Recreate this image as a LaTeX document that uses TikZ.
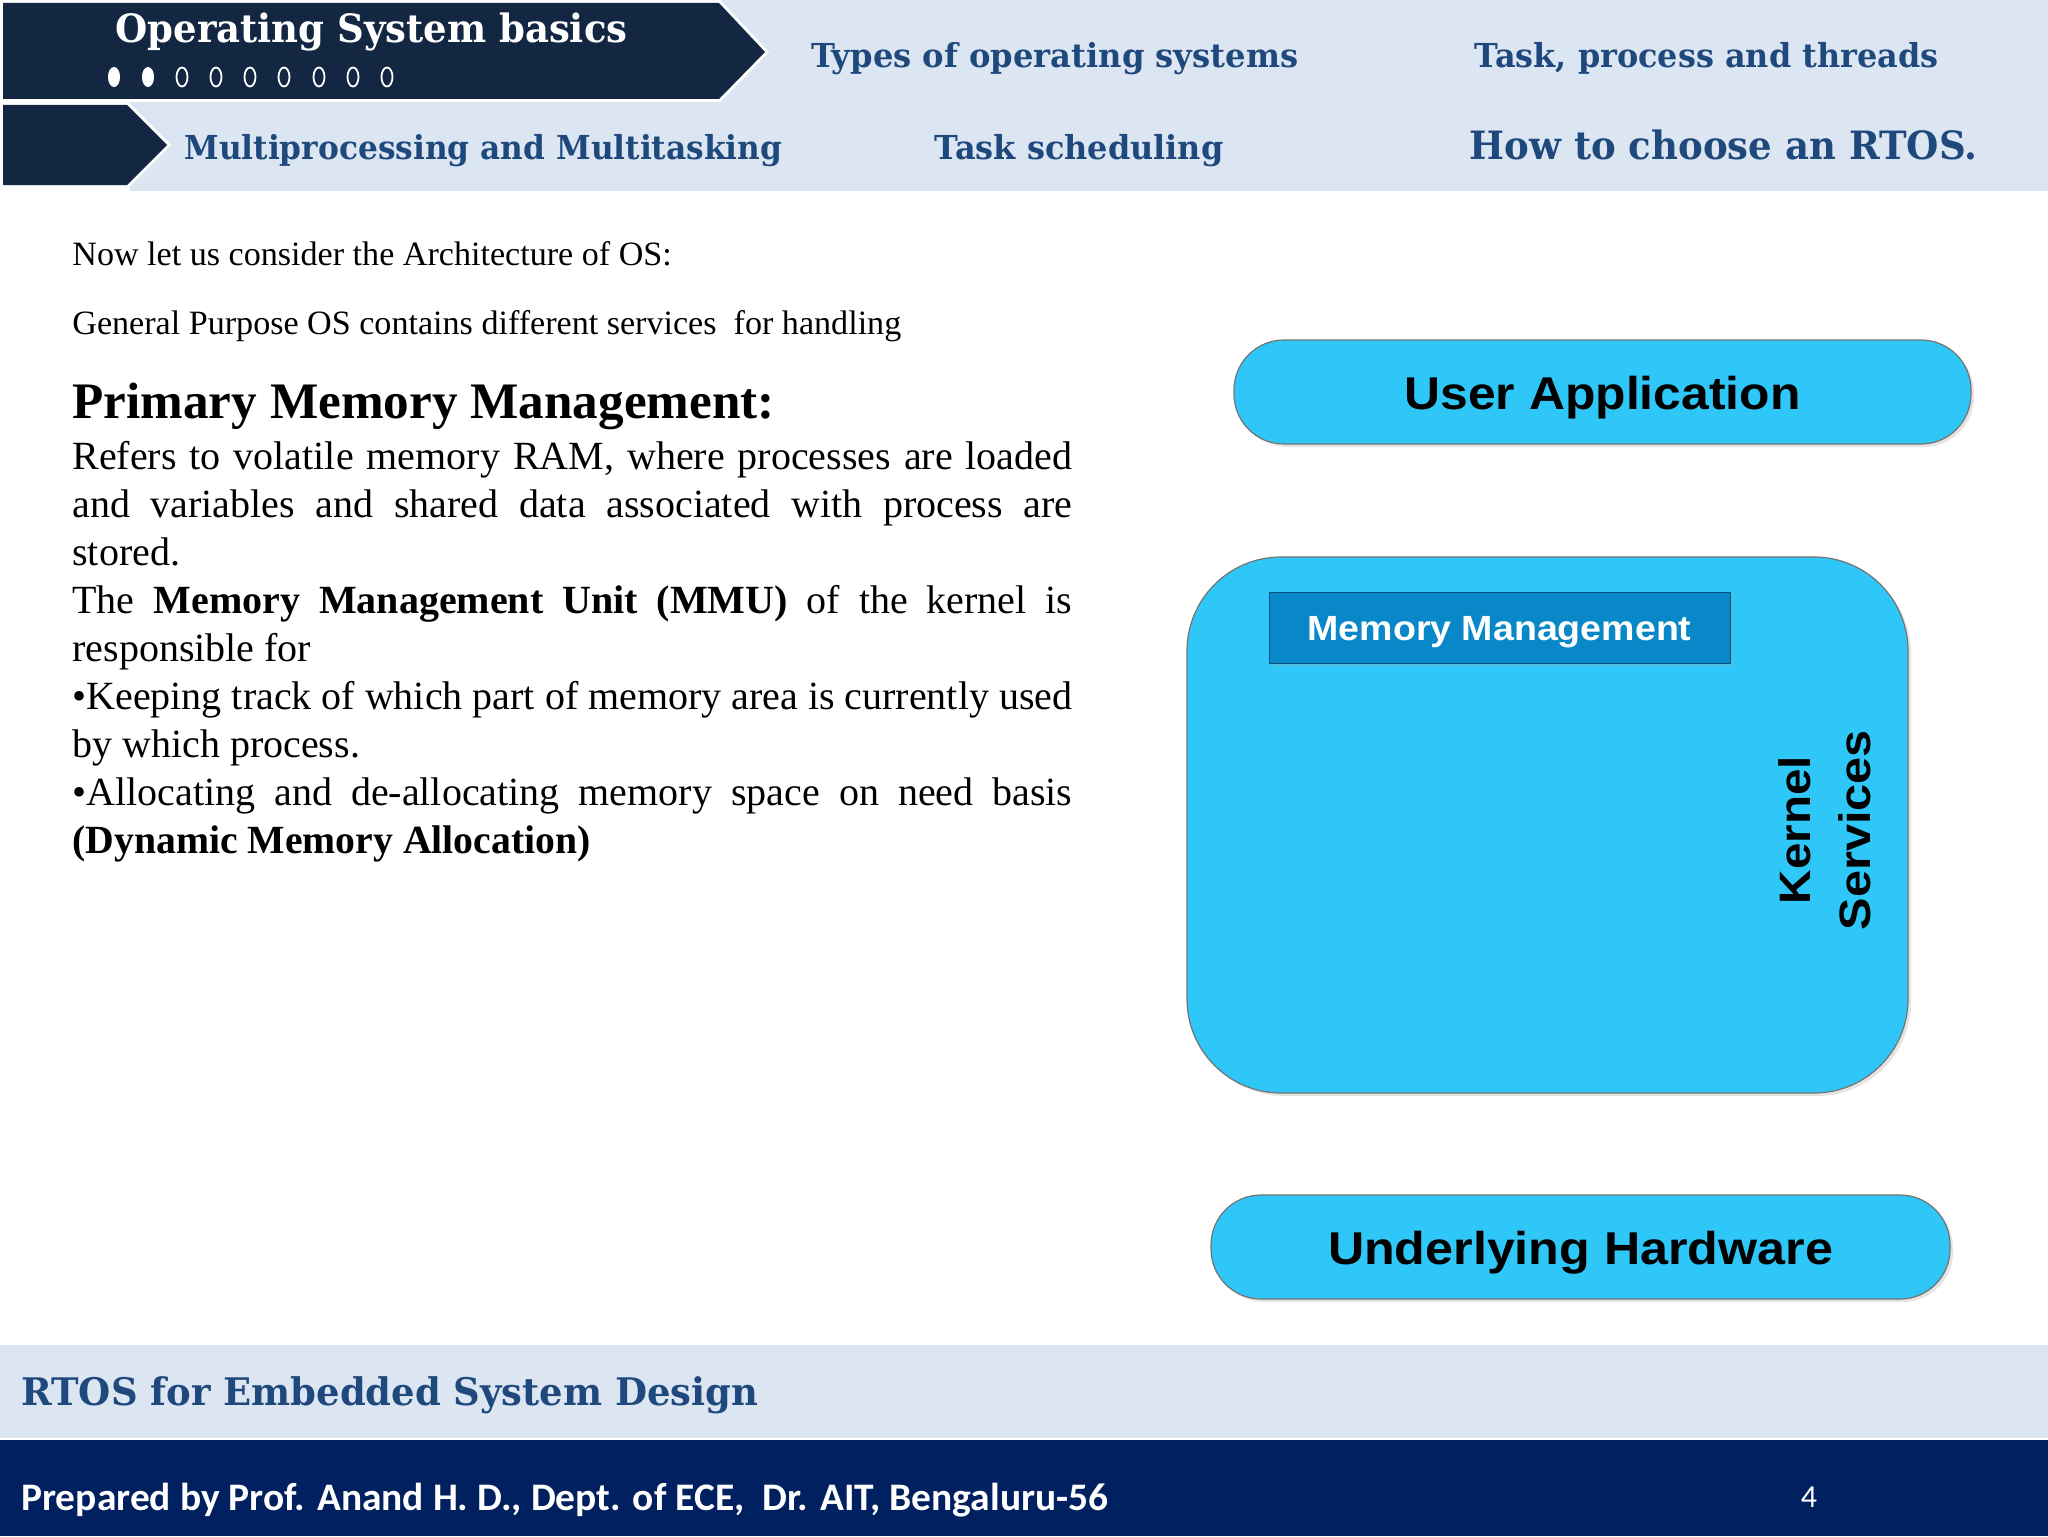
\documentclass[tikz,border=0pt]{standalone}
\usepackage{graphicx}
\usepackage{fontspec}
\setmainfont{Liberation Serif}
\setsansfont{Liberation Sans}
\newfontfamily\slabf{DejaVu Serif}
\newfontfamily\calf{Carlito}
\usetikzlibrary{shadows}
\definecolor{bandc}{HTML}{DCE6F2}
\definecolor{darkc}{HTML}{132743}
\definecolor{slabc}{HTML}{1F497D}
\definecolor{footc}{HTML}{002060}
\definecolor{skyc}{HTML}{2FC7F7}
\definecolor{mmc}{HTML}{0888C8}
\newcommand\slab[3]{\resizebox{#1}{\height}{\fontsize{#2}{#2}\slabf\bfseries #3}}
\newcommand\lab[3]{\raisebox{#2}[0pt][0pt]{\resizebox{#1}{\height}{#3}}}
\tikzset{
  px/.style={x=0.5pt,y=-0.5pt},
  arrowband/.style={fill=darkc,preaction={draw=white,line width=3pt}},
  hdr/.style={anchor=base west,inner sep=0pt,text=slabc},
  softshadow/.style={general shadow={fill=black!35,opacity=.3,shadow xshift=1.5pt,shadow yshift=-1.5pt}},
  pill/.style={draw=black!55,line width=.6pt,fill=skyc,rounded corners=25pt,softshadow,inner sep=0pt,
     font=\sffamily\bfseries\fontsize{23}{28}\selectfont,text=black},
  plain/.style={anchor=base west,inner sep=0pt,text=black,font=\fontsize{17.05}{20}\selectfont},
  dotf/.style={fill=white,draw=white,line width=.5pt},
  doto/.style={draw=white,line width=.9pt}
}
\begin{document}
\begin{tikzpicture}[px]
\useasboundingbox (0,0) rectangle (2048,1536);
\fill[white] (0,0) rectangle (2048,1536);
% header
\fill[bandc] (0,0) rectangle (2048,191);
\path[arrowband] (3,3) -- (719,3) -- (765,52) -- (719,99) -- (3,99) -- cycle;
\path[arrowband] (3,105) -- (127,105) -- (167,145) -- (127,185) -- (3,185) -- cycle;
\fill[white] (0,187) rectangle (130,191);
\node[hdr,text=white] (title) at (115,43) {\slab{256pt}{19.5}{Operating System basics}};
\foreach \i/\cx in {1/114,2/148}
  \path[dotf] (\cx,77) ellipse [x radius=5.5,y radius=9.5];
\foreach \i/\cx in {3/182,4/216,5/250,6/284,7/319,8/353,9/387}
  \path[doto] (\cx,77) ellipse [x radius=5.5,y radius=9.5];
\node[hdr] (t1) at (811,68) {\slab{243.5pt}{16.5}{Types of operating systems}};
\node[hdr] (t2) at (1474,68) {\slab{232pt}{16.5}{Task, process and threads}};
\node[hdr] (t3) at (184,159) {\slab{299pt}{16.5}{Multiprocessing and Multitasking}};
\node[hdr] (t4) at (934,159) {\slab{144.5pt}{16.5}{Task scheduling}};
\node[hdr] (t5) at (1469,159) {\slab{254pt}{19.5}{How to choose an RTOS.}};
% body
\node[plain] (l1) at (72,265) {Now let us consider the Architecture of OS:};
\node[plain] (l2) at (72,334) {General Purpose OS contains different services\ \ for handling};
\node[plain,font=\bfseries\fontsize{25.6}{30}\selectfont] (head) at (72,418) {Primary Memory Management:};
\node[anchor=north west,inner sep=0pt,text width=500pt,align=justify,font=\fontsize{20}{23.95}\selectfont] (para) at (72,436) {%
\strut Refers to volatile memory RAM, where processes are loaded\linebreak
and variables and shared data associated with process are\linebreak
stored.\\
The \textbf{Memory Management Unit (MMU)} of the kernel is\linebreak
responsible for\\
•Keeping track of which part of memory area is currently used\linebreak
by which process.\\
•Allocating and de-allocating memory space on need basis\linebreak
\textbf{\resizebox{259pt}{\height}{(Dynamic Memory Allocation)}}};
% diagram
\node[pill,minimum width=368.5pt,minimum height=52pt] (user) at (1602.5,392) {\lab{198pt}{-8.6pt}{User Application}};
\node[pill,rounded corners=47pt,minimum width=360.5pt,minimum height=268pt] (kern) at (1547.5,825) {};
\node[draw=black!40!mmc,line width=.5pt,fill=mmc,inner sep=0pt,minimum width=230.5pt,minimum height=35.5pt,text=white,
  font=\sffamily\bfseries\fontsize{17.5}{22}\selectfont,softshadow] (mm) at (1499.5,627.5) {\lab{192pt}{-6.6pt}{Memory Management}};
\node[rotate=90,inner sep=0pt,align=center,text=black,font=\sffamily\bfseries\fontsize{22}{30}\selectfont] (ks) at (1825,830) {\resizebox{74pt}{\height}{Kernel}\\\resizebox{100pt}{\height}{Services}};
\node[pill,minimum width=369.5pt,minimum height=52pt] (hw) at (1580.5,1247) {\lab{252.5pt}{-8.6pt}{Underlying Hardware}};
% footer
\fill[bandc] (0,1345) rectangle (2048,1438);
\fill[footc] (0,1440) rectangle (2048,1536);
\node[hdr] (rt) at (21,1405) {\slab{368.5pt}{19}{RTOS for Embedded System Design}};
\node[anchor=base west,inner sep=0pt,text=white] (pb) at (21,1510) {\resizebox{543.5pt}{\height}{\fontsize{19.5}{22}\calf\bfseries Prepared by Prof. Anand H. D., Dept. of ECE,\ \ Dr. AIT, Bengaluru-56}};
\node[anchor=center,inner sep=0pt,text=white,font=\calf\fontsize{16}{19}\selectfont] (pg) at (1809,1497) {4};
\end{tikzpicture}
\end{document}
